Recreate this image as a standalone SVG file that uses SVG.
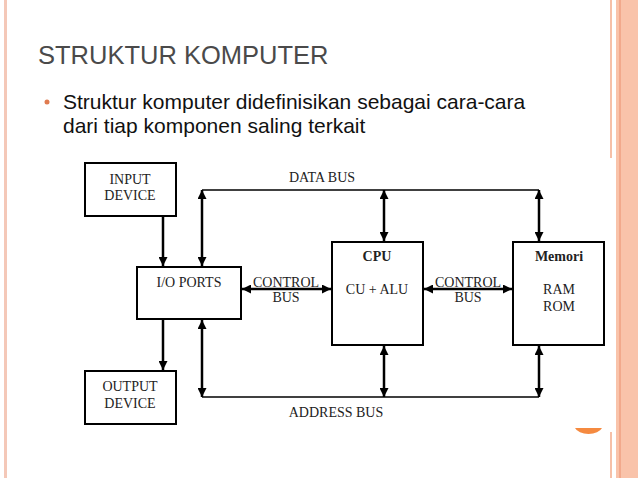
<svg xmlns="http://www.w3.org/2000/svg" width="638" height="478" viewBox="0 0 638 478">
<defs>
<marker id="ah" viewBox="0 0 10 10" refX="10" refY="5" markerWidth="9" markerHeight="9" markerUnits="userSpaceOnUse" orient="auto-start-reverse"><path d="M0,0 L10,5 L0,10 z" fill="#000"/></marker>
</defs>
<style>
.box{fill:#fff;stroke:#000;stroke-width:2}
.t{font-family:"Liberation Serif",serif;font-size:14px;fill:#222;text-anchor:middle}
.b{font-weight:bold}
.ln{stroke:#000;stroke-width:1.5;fill:none}
.ar{stroke:#000;stroke-width:2.5;fill:none}
</style>
<rect width="638" height="478" fill="#fff"/>
<rect x="4" y="0" width="3" height="478" fill="#f4c8b8"/>
<rect x="610" y="0" width="2" height="158" fill="#f6c0a8"/>
<rect x="610" y="432" width="2" height="46" fill="#f6c0a8"/>
<rect x="616" y="0" width="22" height="478" fill="#f9c3aa"/>
<rect x="619" y="0" width="2" height="478" fill="#f2a98c"/>
<path d="M575,428 A14,8 0 0 0 602,428 Z" fill="#f58a40"/>
<text x="38" y="64" font-family="Liberation Sans,sans-serif" font-size="25.5" fill="#4a4a4a">STRUKTUR KOMPUTER</text>
<circle cx="47" cy="102" r="2.5" fill="#e07b50"/>
<text font-family="Liberation Sans,sans-serif" font-size="21" fill="#111"><tspan x="63" y="109">Struktur komputer didefinisikan sebagai cara-cara</tspan><tspan x="63" y="133">dari tiap komponen saling terkait</tspan></text>
<g id="connectors">
<polyline class="ln" points="202,190 539,190"/>
<polyline class="ln" points="202,397 539,397"/>
<line class="ar" x1="202" y1="190" x2="202" y2="266" marker-start="url(#ah)" marker-end="url(#ah)"/>
<line class="ar" x1="202" y1="320" x2="202" y2="397" marker-start="url(#ah)" marker-end="url(#ah)"/>
<line class="ar" x1="384" y1="190" x2="384" y2="241" marker-start="url(#ah)" marker-end="url(#ah)"/>
<line class="ar" x1="384" y1="346" x2="384" y2="397" marker-start="url(#ah)" marker-end="url(#ah)"/>
<line class="ar" x1="539" y1="190" x2="539" y2="241" marker-start="url(#ah)" marker-end="url(#ah)"/>
<line class="ar" x1="539" y1="346" x2="539" y2="397" marker-start="url(#ah)" marker-end="url(#ah)"/>
<line class="ar" x1="163" y1="216" x2="163" y2="266" marker-end="url(#ah)"/>
<line class="ar" x1="163" y1="320" x2="163" y2="370" marker-end="url(#ah)"/>
<line class="ar" x1="242" y1="289" x2="331" y2="289" marker-start="url(#ah)" marker-end="url(#ah)"/>
<line class="ar" x1="424" y1="289" x2="512" y2="289" marker-start="url(#ah)" marker-end="url(#ah)"/>
<text class="t" x="322" y="182">DATA BUS</text>
<text class="t" x="336" y="417">ADDRESS BUS</text>
<text class="t" x="286" y="287">CONTROL</text><text class="t" x="286" y="302">BUS</text>
<text class="t" x="468" y="287">CONTROL</text><text class="t" x="468" y="302">BUS</text>
</g>
<g id="input"><rect class="box" x="85" y="163" width="91" height="53"/><text class="t" x="130" y="184">INPUT</text><text class="t" x="130" y="200">DEVICE</text></g>
<g id="io"><rect class="box" x="137" y="267" width="104" height="52"/><text class="t" x="189" y="287">I/O PORTS</text></g>
<g id="output"><rect class="box" x="85" y="371" width="91" height="53"/><text class="t" x="130" y="391">OUTPUT</text><text class="t" x="130" y="408">DEVICE</text></g>
<g id="cpu"><rect class="box" x="332" y="242" width="91" height="103"/><text class="t b" x="377" y="261">CPU</text><text class="t" x="377" y="294">CU + ALU</text></g>
<g id="memori"><rect class="box" x="513" y="242" width="91" height="103"/><text class="t b" x="559" y="261">Memori</text><text class="t" x="559" y="294">RAM</text><text class="t" x="559" y="311">ROM</text></g>
</svg>
